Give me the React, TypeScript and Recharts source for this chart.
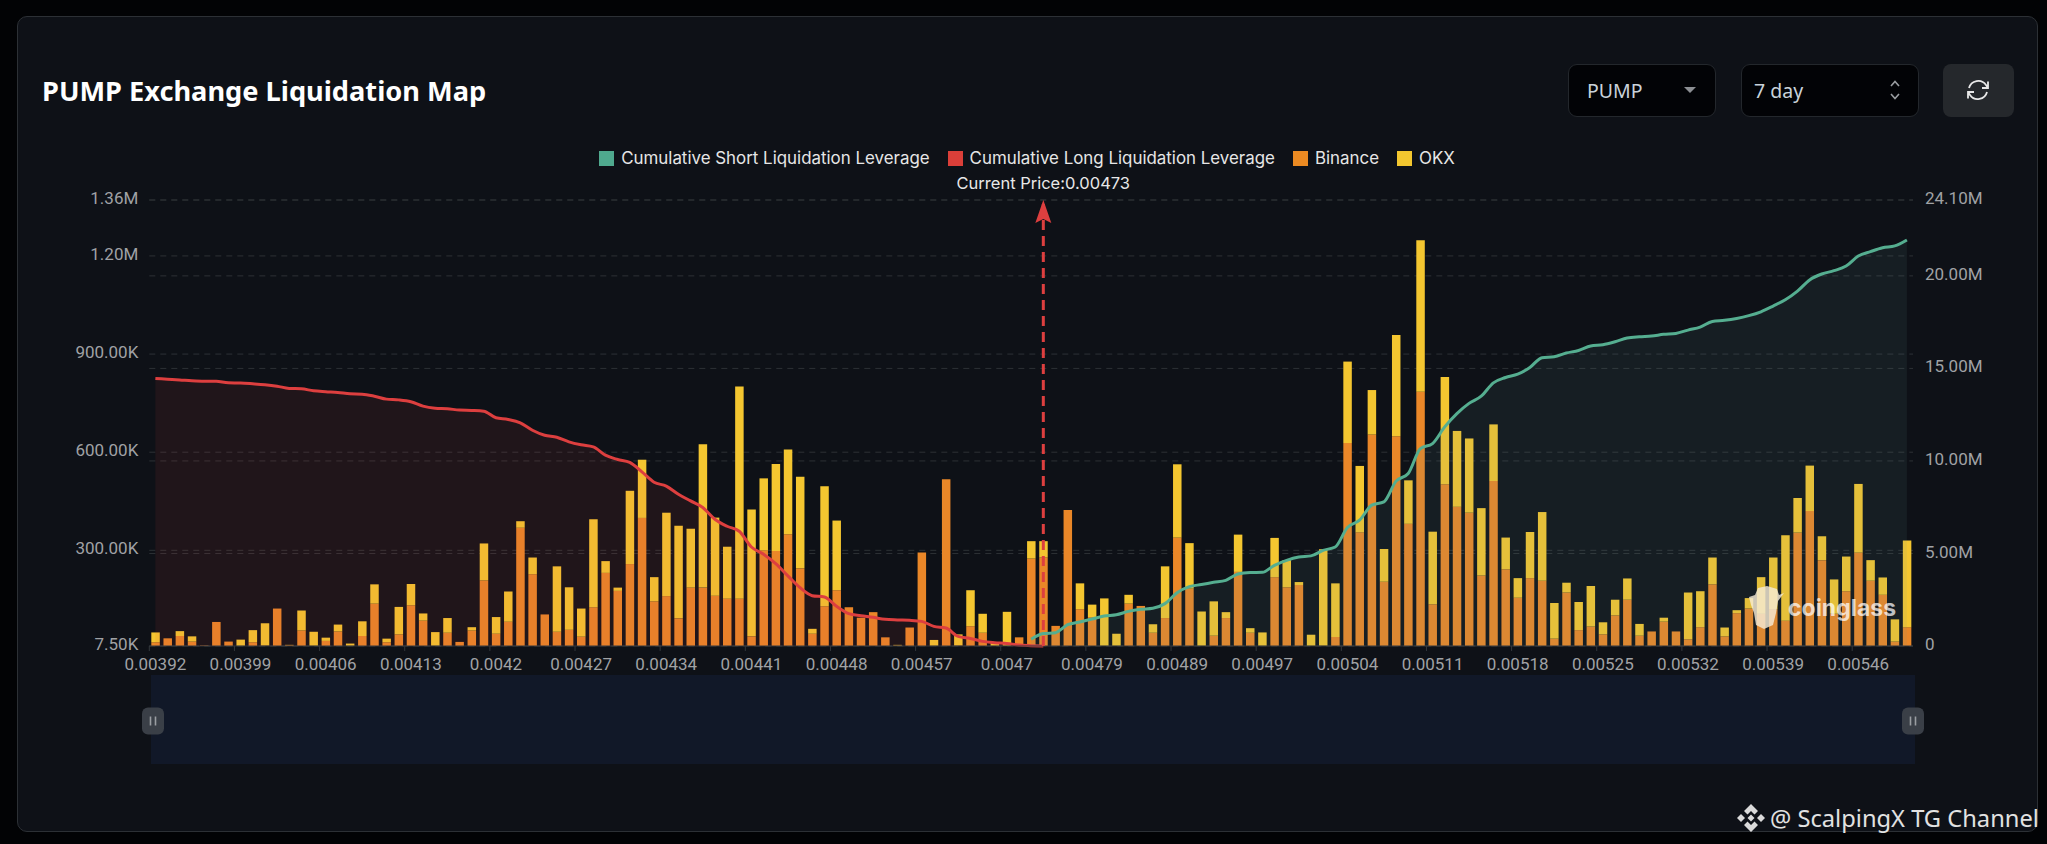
import { Area, Bar, Brush, CartesianGrid, ComposedChart, ReferenceLine, XAxis, YAxis } from 'recharts';

// Tick labels, one per 7 price buckets
const priceLabels = [
  '0.00392', '0.00399', '0.00406', '0.00413', '0.0042', '0.00427', '0.00434',
  '0.00441', '0.00448', '0.00457', '0.0047', '0.00479', '0.00489', '0.00497',
  '0.00504', '0.00511', '0.00518', '0.00525', '0.00532', '0.00539', '0.00546',
];
const leftTicks = [7.5, 300, 600, 900, 1200, 1371];
const leftTickLabels = ['7.50K', '300.00K', '600.00K', '900.00K', '1.20M', '1.36M'];
const rightTicks = [0, 5, 10, 15, 20, 24.1];
const rightTickLabels = ['0', '5.00M', '10.00M', '15.00M', '20.00M', '24.10M'];

// Thousands, per price bucket
const binanceLiq = [
  19, 31, 38, 21, 9, 81, 21, 8, 19, 9, 122, 10, 55, 8, 23, 52, 8, 38, 137, 19,
  43, 132, 85, 8, 48, 20, 55, 208, 45, 82, 369, 227, 104, 51, 57, 36, 126, 231, 176, 258,
  399, 144, 160, 92, 186, 186, 161, 152, 152, 37, 300, 298, 349, 245, 45, 129, 178, 126, 94, 111,
  34, 9, 64, 293, 8, 517, 9, 68, 48, 8, 8, 34, 275, 278, 69, 423, 120, 96, 8, 8,
  137, 130, 48, 93, 339, 183, 8, 39, 93, 234, 48, 8, 218, 187, 194, 8, 8, 35, 628, 355,
  654, 204, 649, 381, 785, 135, 502, 433, 415, 223, 512, 242, 155, 215, 207, 30, 171, 56, 67, 43,
  101, 149, 39, 52, 82, 52, 28, 65, 196, 37, 108, 122, 106, 120, 85, 354, 420, 270, 106, 175,
  293, 207, 164, 21, 65,
];
const okxLiq = [
  30, 0, 15, 16, 0, 0, 0, 19, 37, 68, 0, 1, 61, 43, 10, 21, 7, 45, 59, 11,
  84, 65, 22, 42, 45, 0, 10, 113, 51, 92, 20, 51, 0, 200, 130, 86, 269, 36, 10, 224,
  178, 74, 255, 283, 180, 438, 239, 159, 649, 388, 220, 266, 259, 280, 15, 367, 213, 0, 0, 0,
  0, 2, 0, 0, 18, 0, 34, 110, 58, 9, 104, 0, 53, 50, 0, 0, 79, 38, 145, 37,
  27, 0, 26, 158, 224, 139, 105, 105, 18, 114, 14, 41, 120, 83, 9, 34, 295, 164, 249, 203,
  136, 100, 309, 133, 463, 222, 328, 232, 227, 206, 173, 97, 60, 141, 210, 109, 30, 86, 124, 37,
  48, 65, 36, 0, 12, 0, 143, 110, 82, 27, 9, 32, 112, 158, 261, 106, 139, 73, 105, 106,
  210, 63, 53, 68, 265,
];

// Millions, buckets below the current price
const longLiq = [
  14.46, 14.42, 14.38, 14.33, 14.31, 14.3, 14.22, 14.21, 14.17, 14.12, 14.04, 13.92, 13.9, 13.79, 13.74,
  13.7, 13.63, 13.61, 13.5, 13.34, 13.3, 13.2, 12.96, 12.85, 12.82, 12.75, 12.73, 12.69, 12.33, 12.24,
  12.06, 11.66, 11.39, 11.28, 11.03, 10.87, 10.76, 10.31, 10.08, 9.92, 9.41, 8.85, 8.64, 8.2, 7.84,
  7.48, 6.85, 6.47, 6.2, 5.35, 4.96, 4.45, 3.79, 3.15, 2.72, 2.65, 2.15, 1.75, 1.64, 1.55,
  1.44, 1.41, 1.39, 1.33, 1.06, 0.97, 0.52, 0.41, 0.25, 0.18, 0.14, 0.05, 0.02, 0,
];
// Millions, from bucket 72 upward
const shortStart = 72;
const shortLiq = [
  0.36, 0.67, 0.72, 1.15, 1.3, 1.46, 1.62, 1.69, 1.87, 1.98, 2.04, 2.29, 2.88, 3.21, 3.32,
  3.44, 3.55, 3.89, 3.97, 3.98, 4.36, 4.63, 4.81, 4.87, 5.17, 5.35, 6.4, 6.8, 7.61, 7.79,
  8.91, 9.32, 10.67, 10.94, 11.84, 12.56, 13.11, 13.5, 14.22, 14.51, 14.69, 15.05, 15.58, 15.63, 15.83,
  15.97, 16.21, 16.28, 16.44, 16.64, 16.71, 16.75, 16.84, 16.89, 17.07, 17.23, 17.54, 17.6, 17.7, 17.85,
  18.06, 18.37, 18.71, 19.18, 19.78, 20.1, 20.28, 20.53, 21.07, 21.31, 21.52, 21.62, 21.94,
];

const currentBucket = 73;
const legendItems = [
  { name: 'Cumulative Short Liquidation Leverage', color: '#4FA98E' },
  { name: 'Cumulative Long Liquidation Leverage', color: '#DB3F39' },
  { name: 'Binance', color: '#EB8A22' },
  { name: 'OKX', color: '#F3C72F' },
];

const rows = binanceLiq.map((b, i) => ({
  bucket: i,
  binance: b,
  okx: okxLiq[i],
  long: i < longLiq.length ? longLiq[i] : null,
  short: i >= shortStart ? shortLiq[i - shortStart] : null,
}));
const xTicks = priceLabels.map((_, i) => i * 7);

const tickFill = '#A0A2A5';
const tickFont = 'Roboto, sans-serif';

const PriceTick = ({ x, y, payload }: any) => (
  <g>
    <line x1={x - 6.08} x2={x - 6.08} y1={y - 8} y2={y - 3} stroke="#33373c" />
    <text x={x} y={y + 16} textAnchor="middle" fill={tickFill} fontSize={17} fontFamily={tickFont}>
      {priceLabels[payload.value / 7]}
    </text>
  </g>
);

const SliderHandle = ({ x, y, width, height }: any) => {
  const cx = x + width / 2;
  const cy = y + height / 2 + 1.5;
  return (
    <g>
      <rect x={cx - 11} y={cy - 13.5} width={22} height={27} rx={6} fill="#3A3F47" />
      <line x1={cx - 2.5} x2={cx - 2.5} y1={cy - 4.5} y2={cy + 4.5} stroke="#9A9DA2" strokeWidth={1.6} />
      <line x1={cx + 2.5} x2={cx + 2.5} y1={cy - 4.5} y2={cy + 4.5} stroke="#9A9DA2" strokeWidth={1.6} />
    </g>
  );
};

// Arrow head and text on top of the current price line
const PriceMarker = ({ viewBox }: any) => {
  const { x, y } = viewBox;
  return (
    <g>
      <path d={`M${x} ${y} L${x + 8} ${y + 23} L${x} ${y + 19} L${x - 8} ${y + 23} Z`} fill="#DD3F3F" />
      <text x={x} y={y - 11} textAnchor="middle" fill="#E8E8E8" fontSize={16.5} fontFamily="Inter, sans-serif">
        Current Price:0.00473
      </text>
    </g>
  );
};

const boxStyle: any = {
  position: 'absolute',
  top: 64,
  height: 53,
  boxSizing: 'border-box',
  background: '#020306',
  border: '1px solid #23272c',
  borderRadius: 9,
  color: '#C9D2DA',
  fontSize: 19.5,
  lineHeight: '51px',
  fontFamily: '"Noto Sans", sans-serif',
};

export default function App() {
  return (
    <div style={{ position: 'fixed', left: 0, top: 0, width: 2047, height: 844, background: '#020305', overflow: 'hidden' }}>
      <div
        style={{
          position: 'absolute',
          left: 17,
          top: 16,
          width: 2021,
          height: 816,
          boxSizing: 'border-box',
          background: '#0E1117',
          border: '1px solid #2C3035',
          borderRadius: 10,
        }}
      />
      <div
        style={{
          position: 'absolute',
          left: 42,
          top: 70,
          color: '#fff',
          fontSize: 27.2,
          fontWeight: 700,
          lineHeight: '42px',
          fontFamily: '"Noto Sans", sans-serif',
          whiteSpace: 'nowrap',
        }}
      >
        PUMP Exchange Liquidation Map
      </div>

      <div style={{ ...boxStyle, left: 1568, width: 148, paddingLeft: 18 }}>PUMP</div>
      <svg style={{ position: 'absolute', left: 1682, top: 85 }} width={16} height={10}>
        <path d="M2 2 L14 2 L8 8 Z" fill="#8C8F93" />
      </svg>
      <div style={{ ...boxStyle, left: 1741, width: 178, paddingLeft: 12 }}>7 day</div>
      <svg style={{ position: 'absolute', left: 1887, top: 78 }} width={16} height={24} fill="none" stroke="#9A9DA1" strokeWidth={1.6}>
        <path d="M4 8 L8 3.5 L12 8" />
        <path d="M4 16 L8 20.5 L12 16" />
      </svg>
      <div style={{ position: 'absolute', left: 1943, top: 64, width: 71, height: 53, background: '#25282C', borderRadius: 8 }} />
      <svg style={{ position: 'absolute', left: 1965, top: 77 }} width={26} height={26} fill="none" stroke="#E8E8E8" strokeWidth={1.8}>
        <path d="M4 11 A9.5 9.5 0 0 1 21 8 L23 11 M23 4.5 L23 11 L17 11" />
        <path d="M22 15 A9.5 9.5 0 0 1 5 18 L3 15 M3 21.5 L3 15 L9 15" />
      </svg>

      <div
        style={{
          position: 'absolute',
          left: 0,
          top: 146,
          width: 2054,
          display: 'flex',
          justifyContent: 'center',
          gap: 18,
          color: '#E6E6E6',
          fontSize: 16.9,
          lineHeight: '24px',
          fontFamily: 'Inter, sans-serif',
          whiteSpace: 'nowrap',
        }}
      >
        {legendItems.map((item) => (
          <span key={item.name} style={{ display: 'flex', alignItems: 'center', gap: 7 }}>
            <span style={{ width: 15, height: 15, background: item.color, display: 'inline-block' }} />
            {item.name}
          </span>
        ))}
      </div>

      <div style={{ position: 'absolute', left: 0, top: 0 }}>
        <ComposedChart
          width={2047}
          height={844}
          data={rows}
          margin={{ top: 200, right: 34, bottom: 79, left: 49.3 }}
        >
          <CartesianGrid yAxisId="left" vertical={false} stroke="#2D3135" strokeDasharray="6 5" />
          <CartesianGrid yAxisId="right" vertical={false} stroke="#2D3135" strokeDasharray="6 5" />
          <XAxis
            dataKey="bucket"
            height={30}
            ticks={xTicks}
            interval={0}
            tick={<PriceTick />}
            tickLine={false}
            axisLine={{ stroke: '#33373c' }}
          />
          <YAxis
            yAxisId="left"
            width={100}
            domain={[7.5, 1371]}
            allowDataOverflow
            ticks={leftTicks}
            interval={0}
            tickMargin={5}
            tickFormatter={(v: number) => leftTickLabels[leftTicks.indexOf(v)]}
            tick={{ fill: tickFill, fontSize: 17, fontFamily: tickFont, dy: -2 }}
            tickLine={false}
            axisLine={false}
          />
          <YAxis
            yAxisId="right"
            orientation="right"
            width={100}
            domain={[0, 24.1]}
            ticks={rightTicks}
            interval={0}
            tickMargin={6}
            tickFormatter={(v: number) => rightTickLabels[rightTicks.indexOf(v)]}
            tick={{ fill: tickFill, fontSize: 17, fontFamily: tickFont, textAnchor: 'start', dy: -2 }}
            tickLine={false}
            axisLine={false}
          />
          <Bar yAxisId="left" dataKey="binance" name="Binance" stackId="liq" barSize={8.5} fill="#EA8728" isAnimationActive={false} />
          <Bar yAxisId="left" dataKey="okx" name="OKX" stackId="liq" barSize={8.5} fill="#F4C630" isAnimationActive={false} />
          <Area
            yAxisId="right"
            type="monotone"
            dataKey="long"
            name="Cumulative Long Liquidation Leverage"
            stroke="#DD3F3F"
            strokeWidth={3}
            fill="#DE3F3F"
            fillOpacity={0.09}
            dot={false}
            activeDot={false}
            isAnimationActive={false}
            zIndex={450}
          />
          <Area
            yAxisId="right"
            type="monotone"
            dataKey="short"
            name="Cumulative Short Liquidation Leverage"
            stroke="#55AE90"
            strokeWidth={3}
            fill="#5E938F"
            fillOpacity={0.1}
            dot={false}
            activeDot={false}
            isAnimationActive={false}
            zIndex={450}
          />
          <ReferenceLine
            yAxisId="left"
            x={currentBucket}
            stroke="#DD3F3F"
            strokeWidth={3}
            strokeDasharray="10 6"
            label={<PriceMarker />}
            zIndex={500}
          />
          <Brush
            dataKey="bucket"
            x={151}
            y={675}
            width={1764}
            height={89}
            travellerWidth={4}
            fill="#111828"
            stroke="none"
            traveller={<SliderHandle />}
            tickFormatter={() => ''}
          />
        </ComposedChart>
      </div>

      {/* coinglass watermark */}
      <svg style={{ position: 'absolute', left: 1746, top: 585, pointerEvents: 'none' }} width={170} height={50}>
        <path
          d="M3 12 L9 10 L12 3 L21 1 L31 4 L33 10 L38 8 L32 16 L30 28 L27 40 L18 44 L10 40 L8 28 L5 20 Z"
          fill="#F5EBD6"
          fillOpacity={0.82}
        />
        <text x={42} y={31} fill="#fff" fillOpacity={0.72} fontSize={23} fontWeight={700} fontFamily="Inter, sans-serif">
          coinglass
        </text>
      </svg>

      {/* channel credit */}
      <svg style={{ position: 'absolute', left: 1735, top: 802 }} width={32} height={32} fill="#DADADA">
        <path d="M16 2 L23 9 L19.5 12.5 L16 9 L12.5 12.5 L9 9 Z" />
        <path d="M16 30 L23 23 L19.5 19.5 L16 23 L12.5 19.5 L9 23 Z" />
        <path d="M2 16 L6 12 L10 16 L6 20 Z" />
        <path d="M22 16 L26 12 L30 16 L26 20 Z" />
        <path d="M16 12.5 L19.5 16 L16 19.5 L12.5 16 Z" />
      </svg>
      <div
        style={{
          position: 'absolute',
          left: 1770,
          top: 799,
          color: '#E2E2E2',
          fontSize: 23.7,
          lineHeight: '38px',
          fontFamily: '"Noto Sans", sans-serif',
          whiteSpace: 'nowrap',
        }}
      >
        @ ScalpingX TG Channel
      </div>
    </div>
  );
}
